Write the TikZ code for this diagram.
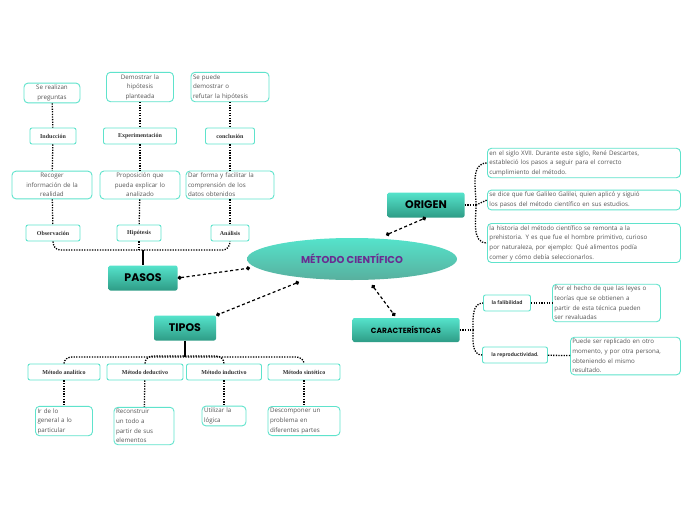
\documentclass[tikz,border=0pt]{standalone}
\usepackage{fontspec}
\setmainfont{Open Sans}
\newfontfamily\hdr{Poppins}
\newfontfamily\lab{Liberation Serif}
\usetikzlibrary{shapes.geometric,arrows.meta}
\definecolor{bord}{HTML}{5FE3CC}
\definecolor{tl}{HTML}{55E3CB}
\definecolor{td}{HTML}{2E9C86}
\definecolor{txt}{HTML}{555555}
\definecolor{purp}{HTML}{6A2C91}
\begin{document}
\begin{tikzpicture}[x=1pt,y=-1pt,
  tb/.style={draw=bord,line width=0.9pt,rounded corners=4pt,fill=white,font=\fontsize{6.2}{9.6}\selectfont,text=txt,align=center,inner sep=2pt,minimum height=#1},
  tb/.default=0pt,
  lb/.style={draw=bord,line width=0.9pt,rounded corners=2pt,fill=white,font=\lab\bfseries\fontsize{6}{7}\selectfont,text=black!80,minimum height=16pt,inner sep=2pt},
  mb/.style={rounded corners=2pt,top color=tl,bottom color=td,draw=none,font=\hdr\bfseries\fontsize{11}{12}\selectfont,text=black,minimum height=25pt},
  dl/.style={line width=1.3pt,dash pattern=on 1.3pt off 1.3pt},
  mc/.style={line width=1.2pt,dash pattern=on 3pt off 2.5pt,{Circle[length=4pt]}-{Circle[length=4pt]}}]
\useasboundingbox (0,0) rectangle (696,520);
\fill[white] (0,0) rectangle (696,520);
\node[ellipse,top color=tl,bottom color=td!80,minimum width=210pt,minimum height=42pt,font=\hdr\bfseries\fontsize{10}{11}\selectfont,text=purp] (m) at (352,259) {MÉTODO CIENTÍFICO};
\node[mb,minimum width=69pt] (pasos) at (143,278) {PASOS};
\node[mb,minimum width=77pt] (origen) at (426,205) {ORIGEN};
\node[mb,minimum width=62pt] (tipos) at (185,328) {TIPOS};
\node[mb,minimum width=107pt,minimum height=24pt,font=\hdr\bfseries\fontsize{7.5}{8}\selectfont] (car) at (406,330) {CARACTERÍSTICAS};
\draw[mc] (pasos.east) -- (250,268);
\draw[mc] (386,235) -- (origen.south);
\draw[mc] (299,282) -- (tipos.north east);
\draw[mc] (372,285) -- (395,316);
% PASOS
\node[tb,text width=52pt] (a1) at (52,93) {Se realizan\\preguntas};
\node[tb,text width=63pt] (a2) at (140,87) {Demostrar la\\hipótesis\\planteada};
\node[tb,text width=74pt,align=left] (a3) at (230,87) {Se puede\\demostrar o\\refutar la hipótesis};
\node[lb,minimum width=46pt] (b1) at (53,136) {Inducción};
\node[lb,minimum width=73pt] (b2) at (140,136) {Experimentación};
\node[lb,minimum width=49pt] (b3) at (230,136) {conclusión};
\node[tb,text width=76pt] (c1) at (52,185) {Recoger\\información de la\\realidad};
\node[tb,text width=76pt] (c2) at (140,185) {Proposición que\\pueda explicar lo\\analizado};
\node[tb,text width=84pt,align=left] (c3) at (230,185) {Dar forma y facilitar la\\comprensión de los\\datos obtenidos};
\node[lb,minimum width=54pt] (d1) at (53,233) {Observación};
\node[lb,minimum width=44pt] (d2) at (139,233) {Hipótesis};
\node[lb,minimum width=38pt] (d3) at (230,233) {Análisis};
\foreach \i in {1,2,3}{\draw[dl] (a\i) -- (b\i); \draw[dl] (b\i) -- (c\i); \draw[dl] (c\i) -- (d\i);}
\draw[dl] (d1.south) to[out=-90,in=180] (60,250) -- (223,250) to[out=0,in=-90] (d3.south);
\draw[dl] (d2.south) -- (139,250);
\draw[line width=1.3pt] (143,250) -- (pasos.north);
% ORIGEN
\node[tb,text width=189pt,align=left,anchor=west] (o1) at (487,163) {en el siglo XVII. Durante este siglo, René Descartes,\\estableció los pasos a seguir para el correcto\\cumplimiento del método.};
\node[tb,text width=189pt,align=left,anchor=west] (o2) at (487,200) {se dice que fue Galileo Galilei, quien aplicó y siguió\\los pasos del método científico en sus estudios.};
\node[tb,text width=189pt,align=left,anchor=west] (o3) at (487,243) {la historia del método científico se remonta a la\\prehistoria. Y es que fue el hombre primitivo, curioso\\por naturaleza, por ejemplo: Qué alimentos podía\\comer y cómo debía seleccionarlos.};
\draw[dl] (origen.east) -- (476,205);
\draw[dl] (476,205) to[out=90,in=180] (o1.west);
\draw[dl] (476,205) -- (o2.west);
\draw[dl] (476,205) to[out=-90,in=180] (o3.west);
% CARACT
\node[lb,minimum width=47pt,font=\fontsize{5}{6}\selectfont\bfseries] (f1) at (507,303) {la falibilidad};
\node[lb,minimum width=65pt,font=\fontsize{5}{6}\selectfont\bfseries] (f2) at (515,355) {la reproductividad.};
\node[tb,text width=104pt,align=left,anchor=west] (g1) at (552,303) {Por el hecho de que las leyes o\\teorías que se obtienen a\\partir de esta técnica pueden\\ser revaluadas};
\node[tb,text width=106pt,align=left,anchor=west] (g2) at (570,356) {Puede ser replicado en otro\\momento, y por otra persona,\\obteniendo el mismo\\resultado.};
\draw[dl] (car.east) -- (473,330);
\draw[dl] (473,330) to[out=90,in=180] (f1.west);
\draw[dl] (473,330) to[out=-90,in=180] (f2.west);
\draw[dl] (f1) -- (g1); \draw[dl] (f2) -- (g2);
% TIPOS
\node[lb,minimum width=72pt] (t1) at (64,372) {Método analítico};
\node[lb,minimum width=76pt] (t2) at (145,372) {Método deductivo};
\node[lb,minimum width=75pt] (t3) at (224,372) {Método inductivo};
\node[lb,minimum width=72pt] (t4) at (304,372) {Método sintético};
\node[tb,text width=53pt,align=left] (u1) at (64,421) {Ir de lo\\general a lo\\particular};
\node[tb,text width=56pt,align=left] (u2) at (144,426) {Reconstruir\\un todo a\\partir de sus\\elementos};
\node[tb,text width=40pt,align=left] (u3) at (224,416) {Utilizar la\\lógica};
\node[tb,text width=68pt,align=left] (u4) at (304,421) {Descomponer un\\problema en\\diferentes partes};
\foreach \i in {1,...,4}{\draw[dl] (t\i) -- (u\i);}
\draw[dl] (t1.north) to[out=90,in=180] (72,357) -- (296,357) to[out=0,in=90] (t4.north);
\draw[dl] (t2.north) to[out=90,in=180] (153,356) -- (216,356) to[out=0,in=90] (t3.north);
\draw[line width=1.3pt] (tipos.south) -- (185,357);
\end{tikzpicture}
\end{document}
